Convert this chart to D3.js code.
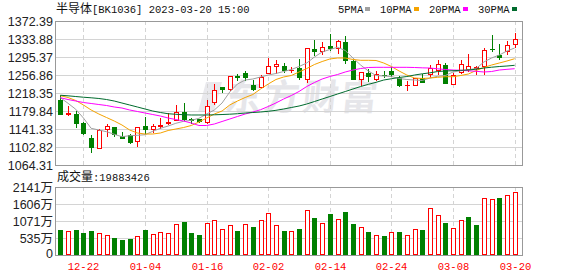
<!DOCTYPE html>
<html>
<head>
<meta charset="utf-8">
<script src="https://cdn.jsdelivr.net/npm/d3@7"></script>
<style>
  body { margin: 0; background: #fff; }
</style>
</head>
<body>
<svg id="chart" width="578" height="276"></svg>
<script>
// Data
var dates = ["12-19","12-20","12-21","12-22","12-23","12-26","12-27","12-28","12-29","12-30",
  "01-03","01-04","01-05","01-06","01-09","01-10","01-11","01-12","01-13","01-16",
  "01-17","01-18","01-19","01-20","01-30","01-31","02-01","02-02","02-03","02-06",
  "02-07","02-08","02-09","02-10","02-13","02-14","02-15","02-16","02-17","02-20",
  "02-21","02-22","02-23","02-24","02-27","02-28","03-01","03-02","03-03","03-06",
  "03-07","03-08","03-09","03-10","03-13","03-14","03-15","03-16","03-17","03-20"];

var open = [1204.0,1170.6,1173.4,1154.2,1122.1,1099.2,1138.6,1145.0,1125.7,1127.9,
  1112.9,1148.4,1138.6,1146.3,1152.0,1159.1,1177.1,1162.1,1162.1,1153.5,
  1196.9,1231.2,1225.4,1254.1,1261.1,1235.7,1229.0,1259.6,1273.3,1275.5,
  1266.0,1271.8,1245.5,1312.5,1305.4,1318.3,1312.5,1327.5,1287.5,1245.5,
  1261.1,1246.8,1256.2,1264.8,1250.4,1234.4,1234.0,1250.4,1257.5,1266.0,
  1277.6,1236.1,1261.1,1268.2,1270.3,1273.3,1313.5,1299.0,1305.4,1320.4];
var high = [1213.4,1189.9,1180.5,1156.3,1127.9,1141.3,1152.0,1146.3,1134.3,1130.6,
  1146.0,1166.4,1152.0,1164.9,1175.6,1192.0,1196.9,1164.2,1163.0,1202.7,
  1237.6,1231.5,1254.5,1259.0,1264.8,1246.8,1257.5,1293.2,1289.6,1282.5,
  1273.3,1291.1,1315.0,1332.4,1327.5,1344.6,1332.4,1339.7,1289.6,1263.0,
  1269.7,1264.8,1266.0,1273.3,1254.1,1244.0,1251.0,1259.0,1277.6,1289.6,
  1282.5,1261.1,1288.3,1301.8,1276.8,1314.6,1343.1,1323.2,1330.2,1346.7];
var low = [1170.6,1170.2,1143.5,1129.1,1090.0,1099.2,1124.9,1124.9,1120.0,1109.2,
  1103.5,1130.6,1132.8,1141.3,1150.6,1158.0,1157.8,1152.0,1153.5,1153.0,
  1192.0,1218.4,1222.0,1244.7,1244.7,1223.3,1228.0,1259.0,1259.6,1261.1,
  1261.1,1246.8,1239.7,1296.9,1300.3,1308.9,1301.8,1281.0,1246.0,1232.7,
  1241.9,1244.7,1250.4,1252.0,1232.0,1221.6,1232.7,1239.0,1250.4,1257.5,
  1237.0,1236.0,1259.0,1263.3,1257.5,1257.5,1305.4,1289.6,1299.0,1314.6];
var close = [1171.9,1174.9,1152.0,1130.6,1100.7,1139.8,1147.1,1127.9,1120.6,1111.4,
  1145.6,1139.8,1147.1,1150.6,1156.3,1177.1,1161.2,1159.1,1156.3,1189.9,
  1224.1,1225.4,1254.1,1249.5,1251.0,1225.4,1252.0,1275.5,1280.4,1264.8,
  1268.2,1250.4,1314.6,1305.4,1316.1,1312.5,1329.0,1287.5,1246.8,1262.6,
  1252.6,1259.0,1254.1,1256.2,1232.7,1236.5,1250.4,1239.7,1271.8,1280.4,
  1237.6,1257.5,1280.4,1275.5,1273.3,1309.7,1310.5,1293.2,1320.4,1334.5];

var volume = [7870000,7560000,7870000,6930000,7560000,6820000,6190000,5350000,4720000,5040000,
  5980000,7870000,6510000,7140000,6820000,9660000,10390000,6930000,6300000,9970000,
  10920000,8080000,9340000,7560000,9660000,8820000,10920000,13120000,9340000,7560000,
  7560000,8190000,14170000,11760000,9970000,12910000,11340000,13540000,9760000,8820000,
  7240000,6190000,5980000,7240000,7240000,6190000,8190000,7870000,14700000,12490000,
  10080000,8500000,11020000,11970000,9450000,17850000,17640000,17950000,18890000,19883426];

var ma5 = [1208.3,1196.3,1183.5,1164.8,1142.8,1139.2,1135.5,1130.0,1124.8,1127.0,
  1127.8,1129.1,1136.4,1142.8,1147.7,1153.5,1157.8,1159.9,1164.2,1173.4,
  1182.0,1196.9,1220.5,1237.6,1246.1,1248.3,1252.6,1256.8,1260.1,1264.3,
  1268.6,1275.0,1282.5,1295.4,1306.0,1311.4,1316.1,1309.3,1293.2,1278.2,
  1265.4,1255.8,1254.7,1253.6,1249.4,1247.2,1246.1,1245.1,1250.4,1254.1,
  1255.8,1263.3,1266.0,1268.2,1270.7,1284.7,1293.2,1299.6,1308.2,1314.6];
var ma10 = [1212.6,1208.7,1202.3,1192.7,1182.0,1173.4,1165.9,1158.4,1149.9,1139.2,
  1132.8,1130.6,1130.6,1132.8,1138.1,1141.3,1144.5,1148.8,1156.3,1164.8,
  1173.4,1179.8,1192.7,1201.2,1208.7,1215.1,1226.9,1237.6,1247.2,1252.6,
  1255.8,1263.3,1270.7,1279.3,1285.7,1291.1,1293.2,1293.2,1290.0,1288.3,
  1288.3,1287.9,1282.5,1275.0,1265.4,1256.8,1250.4,1249.4,1250.4,1251.9,
  1253.2,1253.2,1255.8,1259.0,1266.5,1272.9,1278.2,1282.5,1286.8,1291.7];
var ma20 = [1208.3,1204.4,1201.2,1198.0,1195.9,1193.7,1191.6,1188.4,1186.2,1182.0,
  1178.8,1175.5,1172.3,1169.1,1164.8,1161.6,1158.4,1154.1,1148.8,1148.8,
  1152.0,1157.4,1162.7,1168.1,1173.4,1177.7,1182.6,1189.5,1197.0,1205.5,
  1213.0,1221.6,1232.2,1240.8,1248.3,1253.6,1257.9,1263.3,1267.5,1270.7,
  1272.9,1273.3,1273.3,1273.3,1273.3,1273.3,1272.9,1272.2,1271.8,1270.1,
  1268.6,1267.5,1266.9,1265.8,1264.8,1263.3,1264.3,1267.5,1269.0,1270.3];
var ma30 = [1213.6,1212.3,1210.8,1209.3,1208.1,1206.6,1204.4,1201.2,1196.9,1192.7,
  1188.4,1184.1,1179.8,1176.6,1174.0,1172.8,1171.9,1171.3,1171.3,1171.3,
  1171.7,1172.3,1173.0,1174.0,1175.5,1176.6,1177.7,1179.2,1181.3,1184.1,
  1187.3,1190.5,1194.8,1200.1,1205.5,1210.8,1216.2,1221.5,1226.9,1232.2,
  1236.9,1241.2,1246.1,1248.9,1251.5,1253.6,1256.8,1259.4,1261.5,1264.3,
  1265.4,1266.0,1266.9,1267.5,1269.3,1271.8,1273.5,1275.0,1276.1,1277.6];

var priceTicks = [1064.31,1102.82,1141.33,1179.84,1218.35,1256.86,1295.37,1333.88,1372.39];
var volumeTicks = [0,5352750,10705500,16058250,21411000];
var volumeTickLabels = ["0","535万","1071万","1606万","2141万"];
var xTickDates = ["12-22","01-04","01-16","02-02","02-14","02-24","03-08","03-20"];

var title = "半导体[BK1036] 2023-03-20 15:00";
var lastVolumeText = "成交量:19883426";
var maSeries = [
  { name: "5PMA", values: ma5, color: "#a0a0a0" },
  { name: "10PMA", values: ma10, color: "#f5a300" },
  { name: "20PMA", values: ma20, color: "#ff00ff" },
  { name: "30PMA", values: ma30, color: "#006b2d" },
];

var RED = "#ff0000", GREEN = "#008000";
var GRID = "#d4d4d4", BORDER = "#999";
var monoFont = "'Liberation Mono', 'Noto Sans CJK SC', monospace";
var cjkFont = "'Noto Sans CJK SC', sans-serif";

var svg = d3.select("#chart");
svg.append("rect").attr("width", 578).attr("height", 276).attr("fill", "#fff");

// Sizing
var left = 55, right = 522;
var mainTop = 21, mainBottom = 165;
var volTop = 187, volBottom = 255;

var x = d3.scaleBand().domain(dates).range([56.5, 518.5]);
var cx = function (d) { return Math.round(x(d) + x.bandwidth() / 2); };
var y = d3.scaleLinear().domain([priceTicks[0], priceTicks[priceTicks.length - 1]]).range([mainBottom, mainTop]);
var yv = d3.scaleLinear().domain([0, volumeTicks[volumeTicks.length - 1]]).range([volBottom, volTop]);

var candles = dates.map(function (d, i) {
  return {
    date: d, o: open[i], h: high[i], l: low[i], c: close[i], v: volume[i],
    // volume colour follows close against previous close
    volUp: i === 0 ? close[i] >= open[i] : close[i] >= close[i - 1],
  };
});

// Watermark
var wm = svg.append("g").attr("fill", "#e6e6ea");
wm.append("path")
  .attr("d", "M206,82 L222,82 L214,112 L198,112 Z M204,92 L218,92 L216,99 L202,99 Z")
  .attr("fill", "#e9e9ed");
wm.append("text")
  .attr("x", 224).attr("y", 110)
  .attr("transform", "skewX(-6) translate(11,0)")
  .attr("font-family", cjkFont).attr("font-size", 36).attr("font-weight", "bold")
  .attr("letter-spacing", 3)
  .text("东方财富");

// Grids
function drawGrid(g, yScale, ticks, top, bottom) {
  g.selectAll(".hgrid").data(ticks.slice(1, -1)).enter().append("line")
    .attr("x1", left).attr("x2", right)
    .attr("y1", function (t) { return Math.round(yScale(t)) + 0.5; })
    .attr("y2", function (t) { return Math.round(yScale(t)) + 0.5; })
    .attr("stroke", GRID);
  g.selectAll(".vgrid").data(xTickDates).enter().append("line")
    .attr("x1", function (d) { return cx(d) + 0.5; })
    .attr("x2", function (d) { return cx(d) + 0.5; })
    .attr("y1", top).attr("y2", bottom)
    .attr("stroke", GRID).attr("stroke-dasharray", "4,3");
}
var gridMain = svg.append("g");
drawGrid(gridMain, y, priceTicks, mainTop, mainBottom);
var gridVol = svg.append("g");
drawGrid(gridVol, yv, volumeTicks, volTop, volBottom);

// Candles
var gc = svg.append("g");
candles.forEach(function (d) {
  var px = cx(d.date);
  var up = d.c >= d.o;
  var col = up ? RED : GREEN;
  var top = Math.round(y(Math.max(d.o, d.c)));
  var bot = Math.round(y(Math.min(d.o, d.c)));
  gc.append("line")
    .attr("x1", px + 0.5).attr("x2", px + 0.5)
    .attr("y1", Math.round(y(d.h))).attr("y2", Math.round(y(d.l)))
    .attr("stroke", col);
  if (bot - top < 2) {
    gc.append("rect").attr("x", px - 2).attr("y", top).attr("width", 5).attr("height", Math.max(bot - top, 1))
      .attr("fill", col);
  } else if (up) {
    gc.append("rect").attr("x", px - 1.5).attr("y", top + 0.5).attr("width", 4).attr("height", bot - top - 1)
      .attr("fill", "#fff").attr("stroke", col);
  } else {
    gc.append("rect").attr("x", px - 2).attr("y", top).attr("width", 5).attr("height", bot - top)
      .attr("fill", col);
  }
});

// Moving averages
var line = d3.line()
  .x(function (v, i) { return x(dates[i]) + x.bandwidth() / 2; })
  .y(function (v) { return y(v); });
svg.append("g").selectAll("path").data(maSeries).enter().append("path")
  .attr("d", function (s) { return line(s.values); })
  .attr("fill", "none")
  .attr("stroke", function (s) { return s.color; })
  .attr("stroke-width", 1);

// Volume bars
var gv = svg.append("g");
candles.forEach(function (d) {
  var px = cx(d.date);
  var top = Math.round(yv(d.v));
  if (d.volUp) {
    gv.append("rect").attr("x", px - 1.5).attr("y", top + 0.5).attr("width", 4).attr("height", volBottom - top - 1)
      .attr("fill", "#fff").attr("stroke", RED);
  } else {
    gv.append("rect").attr("x", px - 2).attr("y", top).attr("width", 5).attr("height", volBottom - top)
      .attr("fill", GREEN);
  }
});

// Borders
[[mainTop, mainBottom], [volTop, volBottom]].forEach(function (p) {
  svg.append("rect")
    .attr("x", left + 0.5).attr("y", p[0] + 0.5)
    .attr("width", right - left).attr("height", p[1] - p[0])
    .attr("fill", "none").attr("stroke", BORDER);
});

// Y axis labels
svg.append("g").selectAll("text").data(priceTicks).enter().append("text")
  .attr("x", 53).attr("y", function (t) { return y(t) + 4.5; })
  .attr("text-anchor", "end")
  .attr("font-family", "'Liberation Sans', Arial, sans-serif").attr("font-size", 12.5)
  .attr("fill", "#222")
  .text(function (t) { return t.toFixed(2); });

svg.append("g").selectAll("text").data(volumeTicks).enter().append("text")
  .attr("x", 53).attr("y", function (t, i) { return yv(t) + (i === 0 ? 3 : 4.5); })
  .attr("text-anchor", "end")
  .attr("font-family", "'Liberation Sans', Arial, 'Noto Sans CJK SC', sans-serif").attr("font-size", 12.5)
  .attr("fill", "#222")
  .text(function (t, i) { return volumeTickLabels[i]; });

// X axis labels
svg.append("g").selectAll("text").data(xTickDates).enter().append("text")
  .attr("x", function (d) { return cx(d) + 0.5; }).attr("y", 270)
  .attr("text-anchor", "middle")
  .attr("font-family", monoFont).attr("font-size", 10.5)
  .attr("fill", RED)
  .text(function (d) { return d; });

// Title
function mixedText(xPos, yPos, str) {
  var t = svg.append("text").attr("x", xPos).attr("y", yPos).attr("fill", "#111");
  str.split(/([\u4e00-\u9fff]+)/).forEach(function (part) {
    if (!part) return;
    var cjk = /[\u4e00-\u9fff]/.test(part);
    t.append("tspan")
      .attr("font-family", cjk ? cjkFont : monoFont)
      .attr("font-size", cjk ? 12 : 10.5)
      .text(part);
  });
  return t;
}
mixedText(56, 13, title);
mixedText(57, 181, lastVolumeText);

// Legend
var legend = svg.append("g");
var lx = 338;
maSeries.forEach(function (s) {
  var t = legend.append("text")
    .attr("x", lx).attr("y", 13)
    .attr("font-family", monoFont).attr("font-size", 10.5)
    .attr("fill", "#111")
    .text(s.name);
  var w = t.node().getComputedTextLength();
  legend.append("rect")
    .attr("x", Math.round(lx + w + 2)).attr("y", 7)
    .attr("width", 5).attr("height", 4)
    .attr("fill", s.color);
  lx = Math.round(lx + w + 2 + 5 + 10);
});
</script>
</body>
</html>
